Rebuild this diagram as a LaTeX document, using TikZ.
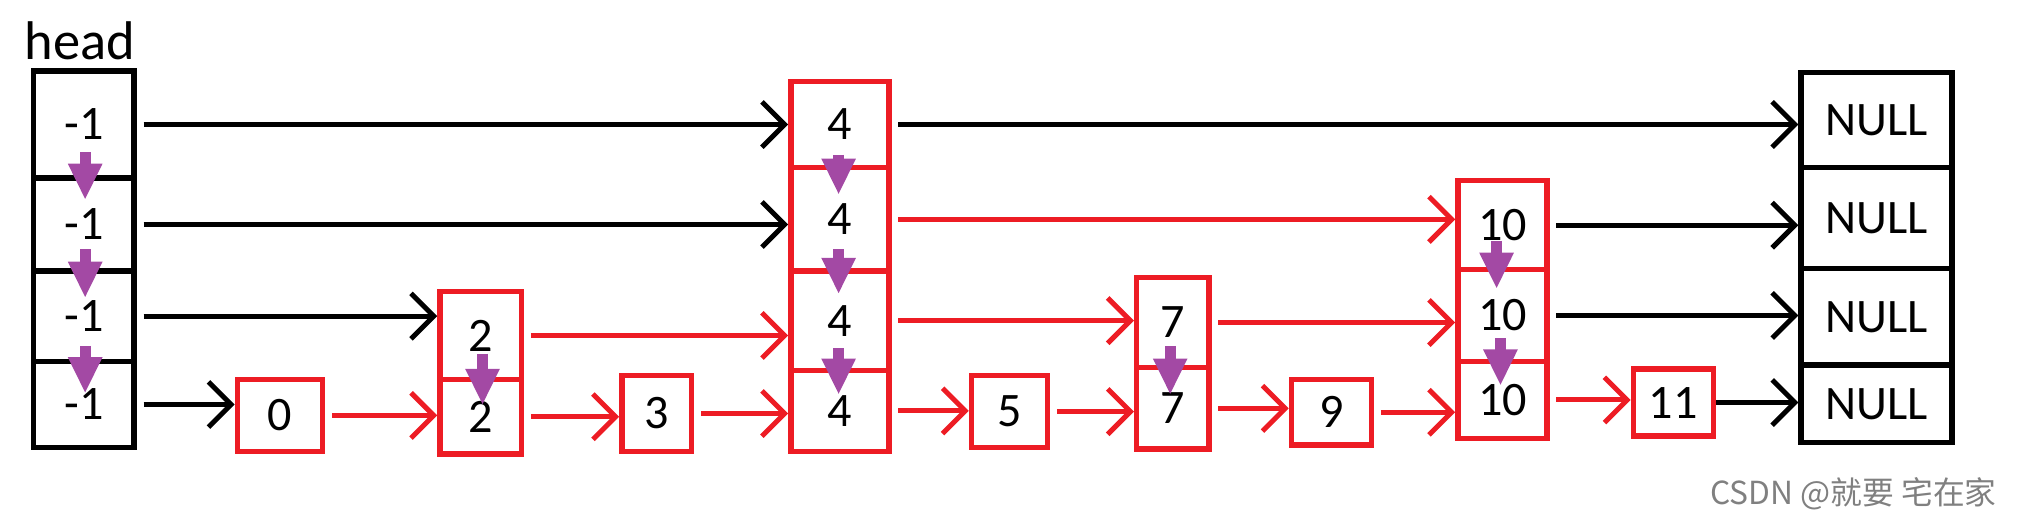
\documentclass[tikz,border=0pt]{standalone}
\usepackage{fontspec}
\setmainfont{Carlito}
\newfontfamily\cjk{Noto Sans CJK SC}
\usetikzlibrary{arrows.meta}
\definecolor{rd}{HTML}{ED1C24}
\definecolor{pu}{HTML}{A349A4}
\begin{document}
\begin{tikzpicture}[x=0.01cm,y=-0.01cm,
  font=\fontsize{10.6}{12}\selectfont,
  bx/.style args={#1/#2}{draw,line width=1.2pt,inner sep=0pt,minimum width=#1*0.01cm,minimum height=#2*0.01cm},
  rb/.style={bx=#1,draw=rd},
  kb/.style={bx=#1,draw=black},
  tip/.style={-{Straight Barb[length=5pt,width=10pt,line width=1.1pt]}},
  ka/.style={tip,line width=1.1pt,black,shorten <=1.5pt},
  ra/.style={tip,line width=1.1pt,rd,shorten <=1.5pt},
  pa/.style={pu,line width=2.4pt,-{Triangle[width=7pt,length=8pt]}}]
\useasboundingbox (0,0) rectangle (1568,399);
\node (headlbl) at (62,32) {\fontsize{12}{14}\selectfont head};
% head column
\node[kb=78/83] (h1) at (65,96.5) {-1};
\node[kb=78/72] (h2) at (65,174) {-1};
\node[kb=78/70] (h3) at (65,245) {-1};
\node[kb=78/67] (h4) at (65,313.5) {-1};
% 4 column
\node[rb=76/67] (f1) at (651,96.5) {4};
\node[rb=76/80] (f2) at (651,170) {4};
\node[rb=76/77] (f3) at (651,248.5) {4};
\node[rb=76/63] (f4) at (651,318.5) {4};
% others
\node[rb=63/68] (t1) at (372.5,260) {2};
\node[rb=63/58] (t2) at (372.5,323) {2};
\node[rb=66/56] (z) at (217,322) {0};
\node[rb=54/59] (th) at (509,320.5) {3};
\node[rb=59/56] (fv) at (782.5,319) {5};
\node[rb=56/70] (s1) at (909,250) {7};
\node[rb=56/63] (s2) at (909,316.5) {7};
\node[rb=62/51] (n) at (1032,319.5) {9};
\node[rb=69/69] (te1) at (1164.5,174.5) {10};
\node[rb=69/71] (te2) at (1164.5,244.5) {10};
\node[rb=69/60] (te3) at (1164.5,310) {10};
\node[rb=62/52] (el) at (1297,312) {11};
% NULL column
\node[kb=117/74] (N1) at (1454.5,93) {NULL};
\node[kb=117/78] (N2) at (1454.5,169) {NULL};
\node[kb=117/75] (N3) at (1454.5,245.5) {NULL};
\node[kb=117/60] (N4) at (1454.5,313) {NULL};
% row 1
\draw[ka] (h1.east) -- (h1.east -| f1.west);
\draw[ka] (f1.east) -- (f1.east -| N1.west);
% row 2
\draw[ka] (h2.east) -- (h2.east -| f2.west);
\draw[ra] (f2.east) -- (f2.east -| te1.west);
\draw[ka] (te1.east) -- (te1.east -| N2.west);
% row 3
\draw[ka] (h3.east) -- (h3.east -| t1.west);
\draw[ra] (t1.east) -- (t1.east -| f3.west);
\draw[ra] (f3.east) -- (f3.east -| s1.west);
\draw[ra] (s1.east) -- (s1.east -| te2.west);
\draw[ka] (te2.east) -- (te2.east -| N3.west);
% row 4
\draw[ka] (h4.east) -- (h4.east -| z.west);
\draw[ra] (z.east) -- (z.east -| t2.west);
\draw[ra] (t2.east) -- (t2.east -| th.west);
\draw[ra] (th.east) -- (th.east -| f4.west);
\draw[ra] (f4.east) -- (f4.east -| fv.west);
\draw[ra] (fv.east) -- (fv.east -| s2.west);
\draw[ra] (s2.east) -- (s2.east -| n.west);
\draw[ra] (n.east) -- (n.east -| te3.west);
\draw[ra] (te3.east) -- (te3.east -| el.west);
\draw[ka,shorten <=0pt] (el.east) -- (el.east -| N4.west);
% purple down arrows
\draw[pa] (66,118) -- (66,155);
\draw[pa] (66,193) -- (66,231);
\draw[pa] (66,268) -- (66,305);
\draw[pa] (650,120) -- (650,151);
\draw[pa] (650,193) -- (650,228);
\draw[pa] (650,270) -- (650,306);
\draw[pa] (374,274) -- (374,314);
\draw[pa] (907,268) -- (907,306);
\draw[pa] (1160,187) -- (1160,224);
\draw[pa] (1163,262) -- (1163,299);
\node[gray,anchor=east,font=\cjk\fontsize{7}{8}\selectfont] (wm) at (1560,383) {CSDN @就要 宅在家};
\end{tikzpicture}
\end{document}
